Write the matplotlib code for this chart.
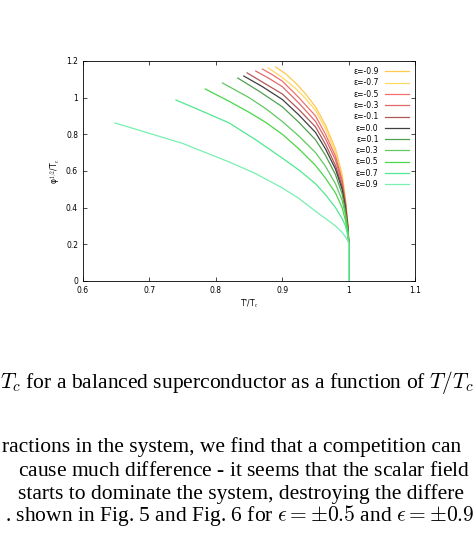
import matplotlib
matplotlib.use("Agg")
import matplotlib.pyplot as plt

# curve points (T/Tc, phi^{1/2}/Tc)
eps_labels = ["-0.9", "-0.7", "-0.5", "-0.3", "-0.1", "0.0", "0.1", "0.3", "0.5", "0.7", "0.9"]
curve_t = [
    [0.89, 0.905, 0.92, 0.935, 0.95, 0.965, 0.98, 0.99, 0.995, 0.999, 1.0, 1.0],
    [0.879, 0.90, 0.92, 0.935, 0.95, 0.965, 0.98, 0.99, 0.995, 0.999, 1.0, 1.0],
    [0.87, 0.885, 0.90, 0.925, 0.95, 0.965, 0.98, 0.99, 0.995, 0.999, 1.0, 1.0],
    [0.86, 0.88, 0.90, 0.925, 0.95, 0.965, 0.98, 0.99, 0.995, 0.999, 1.0, 1.0],
    [0.847, 0.87, 0.90, 0.925, 0.95, 0.965, 0.98, 0.99, 0.995, 0.999, 1.0, 1.0],
    [0.842, 0.87, 0.90, 0.925, 0.95, 0.965, 0.98, 0.99, 0.995, 0.999, 1.0, 1.0],
    [0.833, 0.865, 0.90, 0.925, 0.95, 0.965, 0.98, 0.99, 0.995, 0.999, 1.0, 1.0],
    [0.81, 0.83, 0.85, 0.875, 0.90, 0.925, 0.95, 0.965, 0.98, 0.99, 0.995, 0.999, 1.0, 1.0],
    [0.784, 0.82, 0.85, 0.875, 0.90, 0.925, 0.95, 0.965, 0.98, 0.99, 0.995, 0.999, 1.0, 1.0],
    [0.74, 0.78, 0.82, 0.86, 0.90, 0.925, 0.95, 0.965, 0.98, 0.99, 0.995, 0.999, 1.0, 1.0],
    [0.648, 0.70, 0.75, 0.82, 0.86, 0.90, 0.925, 0.95, 0.965, 0.98, 0.99, 0.995, 0.999, 1.0, 1.0],
]
curve_v = [
    [1.167, 1.13, 1.08, 1.02, 0.95, 0.85, 0.72, 0.58, 0.45, 0.30, 0.2, 0.0],
    [1.162, 1.11, 1.05, 0.995, 0.93, 0.83, 0.70, 0.565, 0.44, 0.295, 0.2, 0.0],
    [1.156, 1.125, 1.09, 1.00, 0.90, 0.80, 0.68, 0.55, 0.43, 0.29, 0.2, 0.0],
    [1.145, 1.105, 1.06, 0.97, 0.87, 0.775, 0.66, 0.535, 0.42, 0.285, 0.2, 0.0],
    [1.135, 1.085, 1.02, 0.935, 0.84, 0.745, 0.63, 0.515, 0.41, 0.28, 0.2, 0.0],
    [1.118, 1.06, 0.99, 0.905, 0.81, 0.72, 0.61, 0.50, 0.40, 0.275, 0.2, 0.0],
    [1.107, 1.035, 0.95, 0.865, 0.77, 0.685, 0.58, 0.475, 0.38, 0.27, 0.2, 0.0],
    [1.08, 1.04, 1.0, 0.94, 0.87, 0.79, 0.70, 0.625, 0.53, 0.44, 0.36, 0.26, 0.2, 0.0],
    [1.047, 0.98, 0.92, 0.865, 0.80, 0.72, 0.63, 0.56, 0.48, 0.40, 0.33, 0.25, 0.2, 0.0],
    [0.987, 0.925, 0.862, 0.77, 0.67, 0.605, 0.53, 0.47, 0.40, 0.34, 0.30, 0.24, 0.2, 0.0],
    [0.862, 0.805, 0.75, 0.649, 0.585, 0.507, 0.45, 0.38, 0.34, 0.30, 0.265, 0.24, 0.215, 0.2, 0.0],
]
colors = ["#ffc850", "#ffd860", "#f07070", "#e06868", "#b05858", "#404040",
          "#50a050", "#60c860", "#48d848", "#50e890", "#78f0b0"]

plt.rcParams["mathtext.fontset"] = "cm"
fig = plt.figure(figsize=(4.74, 5.35), dpi=100)
ax = fig.add_axes([0.175, 0.475, 0.701, 0.411])

for lab, t, v, c in zip(eps_labels, curve_t, curve_v, colors):
    ax.plot(t, v, color=c, lw=0.9, label="ε=" + lab)

ax.set_xlim(0.6, 1.1)
ax.set_ylim(0, 1.2)
ax.set_xticks([0.6, 0.7, 0.8, 0.9, 1.0, 1.1])
ax.set_xticklabels(["0.6", "0.7", "0.8", "0.9", "1", "1.1"])
ax.set_yticks([0, 0.2, 0.4, 0.6, 0.8, 1.0, 1.2])
ax.set_yticklabels(["0", "0.2", "0.4", "0.6", "0.8", "1", "1.2"])
ax.tick_params(direction="in", top=True, right=True, labelsize=5.5, length=3, width=0.5)
for s in ax.spines.values():
    s.set_linewidth(0.6)
ax.set_xlabel(r"T'/T$_{\rm c}$", fontsize=5.5, labelpad=2)
ax.set_ylabel(r"φ$^{1/2}$/T$_{\rm c}$", fontsize=5.5, labelpad=2)
ax.legend(loc="upper right", fontsize=5.5, frameon=False, markerfirst=False,
          handlelength=3.2, labelspacing=0.3, borderaxespad=0.4)

txt = dict(fontsize=15.5, family="Liberation Serif", ha="left", va="center")
fig.text(0.0, 1 - 383 / 535, r"$T_c$ for a balanced superconductor as a function of $T/T_c$ for", **txt)
fig.text(0.004, 1 - 447 / 535, "ractions in the system, we find that a competition can", **txt)
fig.text(0.038, 1 - 470 / 535, r"cause much difference - it seems that the scalar field $\phi$", **txt)
fig.text(0.038, 1 - 494 / 535, "starts to dominate the system, destroying the differe", **txt)
fig.text(0.010, 1 - 516 / 535, r". shown in Fig. 5 and Fig. 6 for $\epsilon = \pm 0.5$ and $\epsilon = \pm 0.9$.", **txt)

fig.savefig("out.png", dpi=100)
